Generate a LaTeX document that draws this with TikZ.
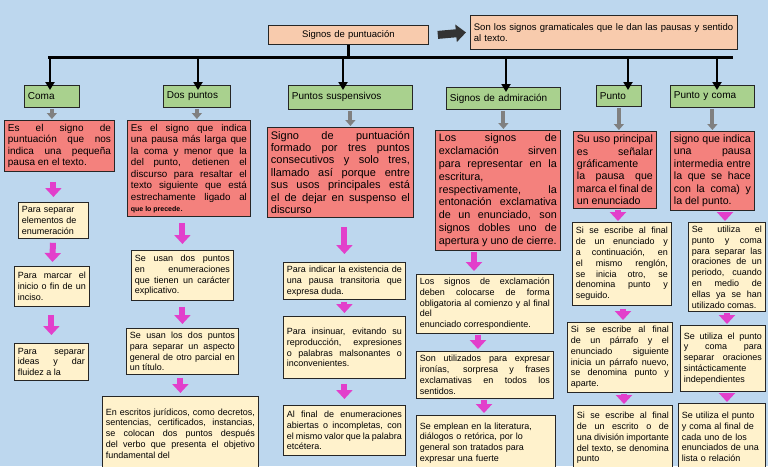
\documentclass[tikz,border=0pt]{standalone}
\usepackage{fontspec}
\setmainfont{Liberation Sans}
\usetikzlibrary{arrows.meta}
\definecolor{bg}{HTML}{BDD7EE}
\definecolor{peach}{HTML}{F8CBAD}
\definecolor{grn}{HTML}{A9D18E}
\definecolor{redb}{HTML}{F4817D}
\definecolor{yel}{HTML}{FFF2CC}
\definecolor{pink}{HTML}{E23FCB}
\tikzset{
 bxs/.style={draw=black!85, line width=0.8pt, inner sep=3.5pt, anchor=north west, align=justify,
   execute at begin node={\hyphenpenalty=10000\exhyphenpenalty=10000\tolerance=9999\emergencystretch=30pt}},
 topb/.style={bxs, fill=peach, font=\fontsize{9.5}{11.5}\selectfont},
 grb/.style={bxs, fill=grn, font=\fontsize{10}{11}\selectfont, align=left},
 rdb/.style={bxs, fill=redb},
 ylb/.style={bxs, fill=yel, font=\fontsize{9}{10.8}\selectfont},
 pinkarr/.style={draw=pink!70!black, line width=6pt, color=pink, -{Triangle[width=16pt,length=9pt]}},
 grayarr/.style={draw=gray, line width=4pt, -{Triangle[width=10pt,length=6pt]}},
 blkarr/.style={draw=black, line width=2.5pt, -{Triangle[width=9pt,length=8pt]}},
}
\newcommand{\bx}[7]{\pgfmathsetmacro\tw{#5-#3-7}\pgfmathsetmacro\th{#6-#4}%
 \node[#2, text width=\tw pt, minimum height=\th pt] (#1) at (#3,#4) {#7};}
\begin{document}
\begin{tikzpicture}[x=1pt,y=-1pt]
\useasboundingbox (0,0) rectangle (768,466);
\clip (0,0) rectangle (768,466);
\fill[bg] (0,0) rectangle (768,466);
% top
\bx{top}{topb,align=center}{268}{25}{428}{44}{Signos de puntuación}
\bx{def}{topb,align=left}{470}{15}{737}{49}{Son los signos gramaticales que le dan las pausas y sentido al texto.}
\draw[line width=8pt, draw=black!80, -{Triangle[width=17pt,length=10pt]}] (top.east)++(9,0) coordinate (ta) -- ([xshift=-4pt]def.west);
% green
\bx{g1}{grb}{24}{85}{79}{107}{Coma}
\bx{g2}{grb}{163}{85}{230}{107}{Dos puntos}
\bx{g3}{grb}{288}{85}{412}{109}{Puntos suspensivos}
\bx{g4}{grb}{446}{87}{560}{109}{Signos de admiración}
\bx{g5}{grb}{596}{85}{641}{106}{Punto}
\bx{g6}{grb}{670}{85}{754}{107}{Punto y coma}
% bar
\coordinate (bl) at (48,57); \coordinate (br) at (733,57);
\draw[line width=3pt] (bl) -- (br);
\draw[line width=3pt] (top.south) -- (top.south |- bl);
\foreach \x/\n in {50/g1,198/g2,343/g3,506/g4,628/g5,717/g6}{
 \draw[blkarr] (\x,57) -- ([yshift=-5pt]\n.north -| \x,0);
}
% red
\bx{r1}{rdb,font=\fontsize{10}{11.6}\selectfont}{4}{120}{114}{168}{Es el signo de puntuación que nos indica una pequeña pausa en el texto.}
\bx{r2}{rdb,font=\fontsize{9.8}{11.5}\selectfont}{127}{120}{250}{214}{Es el signo que indica una pausa más larga que la coma y menor que la del punto, detienen el discurso para resaltar el texto siguiente que está estrechamente ligado al {\bfseries\fontsize{7}{11.5}\selectfont que lo precede}.}
\bx{r3}{rdb,font=\fontsize{11}{12.4}\selectfont}{267}{127}{413}{216}{Signo de puntuación formado por tres puntos consecutivos y solo tres, llamado así porque entre sus usos principales está el de dejar en suspenso el discurso}
\bx{r4}{rdb,font=\fontsize{10.8}{12.8}\selectfont}{435}{130}{560}{250}{Los signos de exclamación sirven para representar en la escritura,\\ respectivamente, la entonación exclamativa de un enunciado, son signos dobles uno de apertura y uno de cierre.}
\bx{r5}{rdb,font=\fontsize{10.6}{12.4}\selectfont}{573}{131}{656}{208}{Su uso principal es señalar gráficamente la pausa que marca el final de un enunciado}
\bx{r6}{rdb,font=\fontsize{10.6}{12.4}\selectfont}{670}{131}{754}{208}{signo que indica una pausa intermedia entre la que se hace con la coma) y la del punto.}
\foreach \i in {1,...,6}{\draw[grayarr] ([yshift=-1pt]g\i.south) -- ([yshift=1pt]r\i.north -| g\i.south);}
% yellow coma
\bx{y11}{ylb,align=left}{18}{202}{88}{238}{Para separar elementos de enumeración}
\bx{y12}{ylb}{14}{266}{89}{306}{Para marcar el inicio o fin de un inciso.}
\bx{y13}{ylb}{14}{343}{88}{380}{Para separar ideas y dar fluidez a la}
% dos puntos
\bx{y21}{ylb}{131}{250}{233}{300}{Se usan dos puntos en enumeraciones que tienen un carácter explicativo.}
\bx{y22}{ylb}{126}{328}{238}{374}{Se usan los dos puntos para separar un aspecto general de otro parcial en un título.}
\bx{y23}{ylb}{102}{396}{258}{470}{En escritos jurídicos, como decretos, sentencias, certificados, instancias, se colocan dos puntos después del verbo que presenta el objetivo fundamental del}
% suspensivos
\bx{y31}{ylb}{283}{262}{405}{298}{Para indicar la existencia de una pausa transitoria que expresa duda.}
\bx{y32}{ylb}{283}{316}{405}{378}{Para insinuar, evitando su reproducción, expresiones o palabras malsonantes o inconvenientes.}
\bx{y33}{ylb}{283}{405}{405}{455}{Al final de enumeraciones abiertas o incompletas, con el mismo valor que la palabra etcétera.}
% admiracion
\bx{y41}{ylb}{416}{274}{553}{331}{Los signos de exclamación deben colocarse de forma obligatoria al comienzo y al final del\\ enunciado correspondiente.}
\bx{y42}{ylb}{416}{351}{553}{398}{Son utilizados para expresar ironías, sorpresa y frases exclamativas en todos los sentidos.}
\bx{y43}{ylb,align=left}{416}{415}{555}{470}{Se emplean en la literatura, diálogos o retórica, por lo general son tratados para expresar una fuerte}
% punto
\bx{y51}{ylb}{572}{222}{671}{305}{Si se escribe al final de un enunciado y a continuación, en el mismo renglón, se inicia otro, se denomina punto y seguido.}
\bx{y52}{ylb}{567}{322}{672}{392}{Si se escribe al final de un párrafo y el enunciado siguiente inicia un párrafo nuevo, se denomina punto y aparte.}
\bx{y53}{ylb}{573}{405}{672}{470}{Si se escribe al final de un escrito o de una división importante del texto, se denomina punto}
% punto y coma
\bx{y61}{ylb}{688}{222}{765}{310}{Se utiliza el punto y coma para separar las oraciones de un periodo, cuando en medio de ellas ya se han utilizado comas.}
\bx{y62}{ylb}{680}{325}{765}{391}{Se utiliza el punto y coma para separar oraciones sintácticamente independientes}
\bx{y63}{ylb,align=left}{678}{403}{765}{470}{Se utiliza el punto y coma al final de cada uno de los enunciados de una lista o relación}
% pink arrows
\draw[pinkarr, shorten <=10pt, shorten >=5pt] (r1.south -| y11.north) -- (y11.north);
\draw[pinkarr, shorten <=4pt, shorten >=4pt] (y11) -- (y12);
\draw[pinkarr, shorten <=8pt, shorten >=8pt] (y12.south -| y13.north) -- (y13.north);
\draw[pinkarr, shorten <=6pt, shorten >=6pt] (r2.south -| y21.north) -- (y21.north);
\draw[pinkarr, shorten <=6pt, shorten >=4pt] (y21.south -| y22.north) -- (y22.north);
\draw[pinkarr, shorten <=3pt, shorten >=3pt] (y22.south -| y23.north) -- (y23.north);
\draw[pinkarr, shorten <=10pt, shorten >=8pt] (r3.south -| y31.north) -- (y31.north);
\draw[pinkarr, shorten <=2pt, shorten >=3pt] (y31.south -| y32.north) -- (y32.north);
\draw[pinkarr, shorten <=5pt, shorten >=6pt] (y32.south -| y33.north) -- (y33.north);
\draw[pinkarr, shorten <=1pt, shorten >=3pt] (r4.south -| 474,0) -- (y41.north -| 474,0);
\draw[pinkarr, shorten <=1pt, shorten >=2pt] (y41.south -| 478,0) -- (y42.north -| 478,0);
\draw[pinkarr, shorten <=1pt, shorten >=2pt] (y42.south -| 484,0) -- (y43.north -| 484,0);
\draw[pinkarr, shorten <=1pt, shorten >=1pt] (r5.south -| 618,0) -- (y51.north -| 618,0);
\draw[pinkarr, shorten <=3pt, shorten >=2pt] (y51.south -| 623,0) -- (y52.north -| 623,0);
\draw[pinkarr, shorten <=1pt, shorten >=1pt] (y52.south -| 624,0) -- (y53.north -| 624,0);
\draw[pinkarr, shorten <=1pt, shorten >=1pt] (r6.south -| 725,0) -- (y61.north -| 725,0);
\draw[pinkarr, shorten <=1pt, shorten >=1pt] (y61.south -| 727,0) -- (y62.north -| 727,0);
\draw[pinkarr, shorten <=1pt, shorten >=1pt] (y62.south -| 727,0) -- (y63.north -| 727,0);
\end{tikzpicture}
\end{document}
